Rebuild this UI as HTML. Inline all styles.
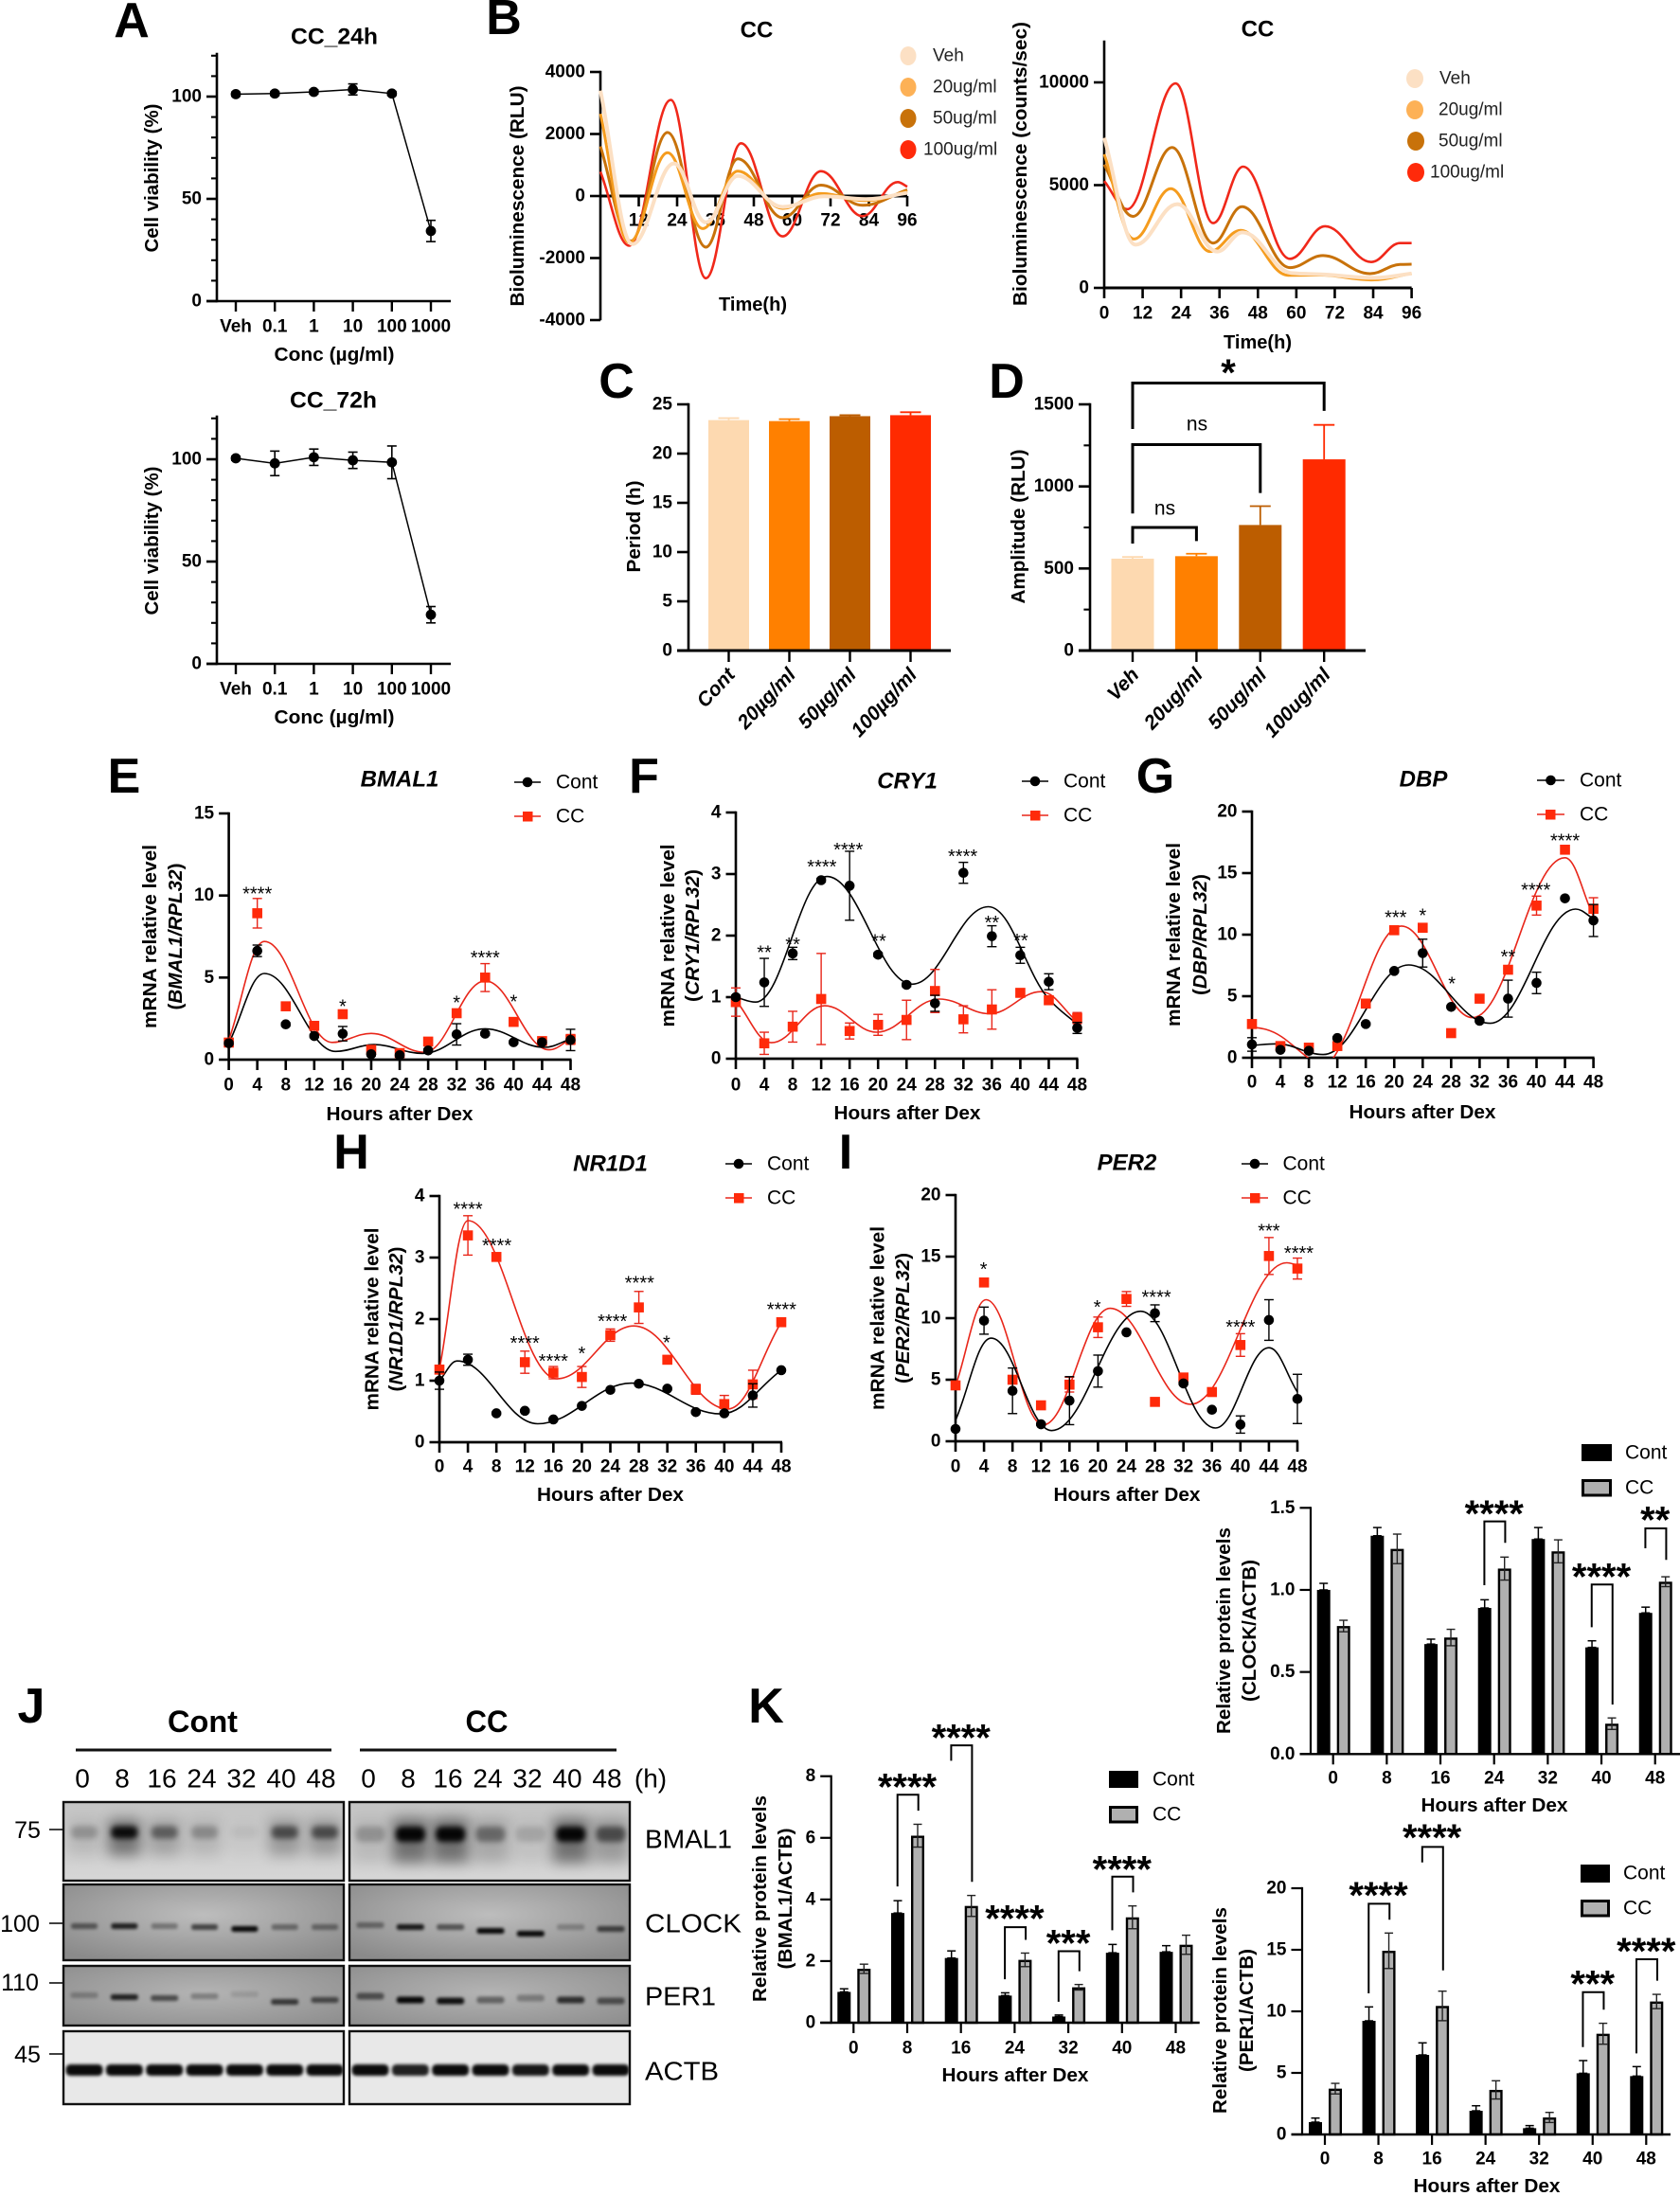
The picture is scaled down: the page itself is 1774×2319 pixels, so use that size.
<!DOCTYPE html>
<html lang="en">
<head>
<meta charset="utf-8">
<title>Circadian gene expression figure</title>
<style>
html,body{margin:0;padding:0;background:#fff;width:1774px;height:2319px;overflow:hidden}
svg{display:block}
text{font-family:"Liberation Sans",Arial,sans-serif;fill:#000;dominant-baseline:central}
.letter{font-size:52px;font-weight:700;text-anchor:middle}
.title{font-size:24px;font-weight:700;font-style:italic;text-anchor:middle}
.ptitle{font-size:24px;font-weight:700;text-anchor:middle}
.axis{font-size:20px;font-weight:700;text-anchor:middle}
.leg{font-size:21px}
.leg2{font-size:19px;fill:#222}
.blot{font-size:28px}
.blotm{font-size:28px;text-anchor:middle}
</style>
</head>
<body>
<svg id="fig" xmlns="http://www.w3.org/2000/svg" width="1774" height="2319" viewBox="0 0 1774 2319">
<defs>
<filter id="blur-wide" x="-60%" y="-100%" width="220%" height="300%"><feGaussianBlur stdDeviation="7"/></filter>
<filter id="blur-mid" x="-40%" y="-100%" width="180%" height="300%"><feGaussianBlur stdDeviation="3"/></filter>
<filter id="blur-sharp" x="-30%" y="-100%" width="160%" height="300%"><feGaussianBlur stdDeviation="1.6"/></filter>
<radialGradient id="grad-clock" cx="50%" cy="40%" r="70%"><stop offset="0%" stop-color="#bdbdbd"/><stop offset="100%" stop-color="#8a8a8a"/></radialGradient>
<radialGradient id="grad-per" cx="50%" cy="45%" r="70%"><stop offset="0%" stop-color="#b4b4b4"/><stop offset="100%" stop-color="#8e8e8e"/></radialGradient>
<linearGradient id="grad-bmal" x1="0" y1="0" x2="0" y2="1"><stop offset="0%" stop-color="#c4c4c4"/><stop offset="100%" stop-color="#d6d6d6"/></linearGradient>
</defs>
<rect width="1774" height="2319" fill="#fff"/>

<!-- panel letters -->
<text class="letter" x="139" y="22">A</text>
<text class="letter" x="532" y="19">B</text>
<text class="letter" x="651" y="403">C</text>
<text class="letter" x="1063" y="403">D</text>
<text class="letter" x="131" y="820">E</text>
<text class="letter" x="680" y="820">F</text>
<text class="letter" x="1220" y="820">G</text>
<text class="letter" x="371" y="1217">H</text>
<text class="letter" x="893" y="1217">I</text>
<text class="letter" x="33" y="1802">J</text>
<text class="letter" x="809" y="1802">K</text>

<!-- A -->
<text class="ptitle" x="353" y="39" textLength="92" lengthAdjust="spacingAndGlyphs">CC_24h</text>
<text class="axis" x="161" y="188" textLength="157" lengthAdjust="spacingAndGlyphs" transform="rotate(-90 161 188)">Cell viability (%)</text>
<text class="axis" x="353" y="375" textLength="127" lengthAdjust="spacingAndGlyphs">Conc (µg/ml)</text>
<text class="ptitle" x="352" y="423" textLength="92" lengthAdjust="spacingAndGlyphs">CC_72h</text>
<text class="axis" x="161" y="571" textLength="157" lengthAdjust="spacingAndGlyphs" transform="rotate(-90 161 571)">Cell viability (%)</text>
<text class="axis" x="353" y="758" textLength="127" lengthAdjust="spacingAndGlyphs">Conc (µg/ml)</text>

<!-- B -->
<text class="ptitle" x="799" y="32">CC</text>
<text class="axis" x="547" y="207" textLength="233" lengthAdjust="spacingAndGlyphs" transform="rotate(-90 547 207)">Bioluminescence (RLU)</text>
<text class="axis" x="795" y="322" textLength="72" lengthAdjust="spacingAndGlyphs">Time(h)</text>
<g>
<ellipse cx="959" cy="59" rx="8.5" ry="10" fill="#FCE0C4"/>
<ellipse cx="959" cy="92" rx="8.5" ry="10" fill="#FDB156"/>
<ellipse cx="959" cy="125" rx="8.5" ry="10" fill="#C8720A"/>
<ellipse cx="959" cy="158" rx="8.5" ry="10" fill="#FF2A0A"/>
<text class="leg2" x="985" y="59">Veh</text>
<text class="leg2" x="985" y="92">20ug/ml</text>
<text class="leg2" x="985" y="125">50ug/ml</text>
<text class="leg2" x="975" y="158">100ug/ml</text>
</g>
<text class="ptitle" x="1328" y="31">CC</text>
<text class="axis" x="1078" y="173" textLength="300" lengthAdjust="spacingAndGlyphs" transform="rotate(-90 1078 173)">Bioluminescence (counts/sec)</text>
<text class="axis" x="1328" y="362" textLength="72" lengthAdjust="spacingAndGlyphs">Time(h)</text>
<g>
<ellipse cx="1494" cy="83" rx="9" ry="10" fill="#FCE0C4"/>
<ellipse cx="1494" cy="116" rx="9" ry="10" fill="#FDB156"/>
<ellipse cx="1495" cy="149" rx="9" ry="10" fill="#C8720A"/>
<ellipse cx="1495" cy="182" rx="9" ry="10" fill="#FF2A0A"/>
<text class="leg2" x="1520" y="83">Veh</text>
<text class="leg2" x="1519" y="116">20ug/ml</text>
<text class="leg2" x="1519" y="149">50ug/ml</text>
<text class="leg2" x="1510" y="182">100ug/ml</text>
</g>

<!-- C / D titles -->
<text class="axis" x="670" y="556" textLength="97" lengthAdjust="spacingAndGlyphs" transform="rotate(-90 670 556)">Period (h)</text>
<text class="axis" x="1076" y="556" textLength="163" lengthAdjust="spacingAndGlyphs" transform="rotate(-90 1076 556)">Amplitude (RLU)</text>
<text x="1230" y="537" text-anchor="middle" font-size="21">ns</text>
<text x="1264" y="448" text-anchor="middle" font-size="21">ns</text>
<text x="1297" y="394" text-anchor="middle" font-size="40" font-weight="700">*</text>

<!-- E -->
<text class="title" x="422" y="823">BMAL1</text>
<text class="axis" x="159" y="989" textLength="194" lengthAdjust="spacingAndGlyphs" transform="rotate(-90 159 989)">mRNA relative level</text>
<text class="axis" x="186" y="989" textLength="155" lengthAdjust="spacingAndGlyphs" transform="rotate(-90 186 989)">(<tspan font-style="italic">BMAL1/RPL32</tspan>)</text>
<text class="axis" x="422" y="1177" textLength="155" lengthAdjust="spacingAndGlyphs">Hours after Dex</text>
<g>
<line x1="543" x2="571" y1="826" y2="826" stroke="#000" stroke-width="1.5"/>
<circle cx="557" cy="826" r="5.3" fill="#000"/>
<text class="leg" x="587" y="826">Cont</text>
<line x1="543" x2="571" y1="862" y2="862" stroke="#E8261A" stroke-width="1.5"/>
<rect x="552" y="857" width="10.5" height="10.5" fill="#FF2A0A"/>
<text class="leg" x="587" y="862">CC</text>
</g>

<!-- F -->
<text class="title" x="958" y="825">CRY1</text>
<text class="axis" x="706" y="988" textLength="193" lengthAdjust="spacingAndGlyphs" transform="rotate(-90 706 988)">mRNA relative level</text>
<text class="axis" x="732" y="988" textLength="140" lengthAdjust="spacingAndGlyphs" transform="rotate(-90 732 988)">(<tspan font-style="italic">CRY1/RPL32</tspan>)</text>
<text class="axis" x="958" y="1176" textLength="155" lengthAdjust="spacingAndGlyphs">Hours after Dex</text>
<g>
<line x1="1079" x2="1107" y1="825" y2="825" stroke="#000" stroke-width="1.5"/>
<circle cx="1093" cy="825" r="5.3" fill="#000"/>
<text class="leg" x="1123" y="825">Cont</text>
<line x1="1079" x2="1107" y1="861" y2="861" stroke="#E8261A" stroke-width="1.5"/>
<rect x="1088" y="856" width="10.5" height="10.5" fill="#FF2A0A"/>
<text class="leg" x="1123" y="861">CC</text>
</g>

<!-- G -->
<text class="title" x="1503" y="823">DBP</text>
<text class="axis" x="1240" y="987" textLength="194" lengthAdjust="spacingAndGlyphs" transform="rotate(-90 1240 987)">mRNA relative level</text>
<text class="axis" x="1268" y="987" textLength="128" lengthAdjust="spacingAndGlyphs" transform="rotate(-90 1268 987)">(<tspan font-style="italic">DBP/RPL32</tspan>)</text>
<text class="axis" x="1502" y="1175" textLength="155" lengthAdjust="spacingAndGlyphs">Hours after Dex</text>
<g>
<line x1="1623" x2="1652" y1="824" y2="824" stroke="#000" stroke-width="1.5"/>
<circle cx="1637.5" cy="824" r="5.3" fill="#000"/>
<text class="leg" x="1668" y="824">Cont</text>
<line x1="1623" x2="1652" y1="860" y2="860" stroke="#E8261A" stroke-width="1.5"/>
<rect x="1632" y="855" width="10.5" height="10.5" fill="#FF2A0A"/>
<text class="leg" x="1668" y="860">CC</text>
</g>

<!-- H -->
<text class="title" x="644.5" y="1229">NR1D1</text>
<text class="axis" x="393.5" y="1393" textLength="193" lengthAdjust="spacingAndGlyphs" transform="rotate(-90 393.5 1393)">mRNA relative level</text>
<text class="axis" x="419" y="1393" textLength="153" lengthAdjust="spacingAndGlyphs" transform="rotate(-90 419 1393)">(<tspan font-style="italic">NR1D1/RPL32</tspan>)</text>
<text class="axis" x="644.5" y="1579" textLength="155" lengthAdjust="spacingAndGlyphs">Hours after Dex</text>
<g>
<line x1="766" x2="794" y1="1229" y2="1229" stroke="#000" stroke-width="1.5"/>
<circle cx="780" cy="1229" r="5.3" fill="#000"/>
<text class="leg" x="810" y="1229">Cont</text>
<line x1="766" x2="794" y1="1265" y2="1265" stroke="#E8261A" stroke-width="1.5"/>
<rect x="775" y="1260" width="10.5" height="10.5" fill="#FF2A0A"/>
<text class="leg" x="810" y="1265">CC</text>
</g>

<!-- I -->
<text class="title" x="1190" y="1228">PER2</text>
<text class="axis" x="927.5" y="1392" textLength="194" lengthAdjust="spacingAndGlyphs" transform="rotate(-90 927.5 1392)">mRNA relative level</text>
<text class="axis" x="954" y="1392" textLength="138" lengthAdjust="spacingAndGlyphs" transform="rotate(-90 954 1392)">(<tspan font-style="italic">PER2/RPL32</tspan>)</text>
<text class="axis" x="1190" y="1579" textLength="155" lengthAdjust="spacingAndGlyphs">Hours after Dex</text>
<g>
<line x1="1311" x2="1339" y1="1229" y2="1229" stroke="#000" stroke-width="1.5"/>
<circle cx="1325" cy="1229" r="5.3" fill="#000"/>
<text class="leg" x="1354.5" y="1229">Cont</text>
<line x1="1311" x2="1339" y1="1265" y2="1265" stroke="#E8261A" stroke-width="1.5"/>
<rect x="1320" y="1260" width="10.5" height="10.5" fill="#FF2A0A"/>
<text class="leg" x="1354.5" y="1265">CC</text>
</g>

<!-- J text -->
<text x="214" y="1818" text-anchor="middle" font-size="32" font-weight="700" textLength="74" lengthAdjust="spacingAndGlyphs">Cont</text>
<text x="514" y="1818" text-anchor="middle" font-size="32" font-weight="700" textLength="45" lengthAdjust="spacingAndGlyphs">CC</text>
<line x1="80" x2="350" y1="1848" y2="1848" stroke="#111" stroke-width="3"/>
<line x1="380" x2="651" y1="1848" y2="1848" stroke="#111" stroke-width="3"/>
<text class="blotm" x="687" y="1878">(h)</text>
<text class="blot" x="681" y="1942" textLength="92" lengthAdjust="spacingAndGlyphs">BMAL1</text>
<text class="blot" x="681" y="2031" textLength="102" lengthAdjust="spacingAndGlyphs">CLOCK</text>
<text class="blot" x="681" y="2108" textLength="75" lengthAdjust="spacingAndGlyphs">PER1</text>
<text class="blot" x="681" y="2187" textLength="78" lengthAdjust="spacingAndGlyphs">ACTB</text>
<text x="29" y="1933" text-anchor="middle" font-size="25">75</text>
<text x="21" y="2032" text-anchor="middle" font-size="25">100</text>
<text x="21" y="2094" text-anchor="middle" font-size="25">110</text>
<text x="29" y="2170" text-anchor="middle" font-size="25">45</text>
<line x1="52" x2="67" y1="1932" y2="1932" stroke="#111" stroke-width="1.6"/>
<line x1="52" x2="67" y1="2031" y2="2031" stroke="#111" stroke-width="1.6"/>
<line x1="52" x2="67" y1="2094" y2="2094" stroke="#111" stroke-width="1.6"/>
<line x1="52" x2="67" y1="2169" y2="2169" stroke="#111" stroke-width="1.6"/>

<!-- K titles -->
<text class="axis" x="803" y="2005" textLength="218" lengthAdjust="spacingAndGlyphs" transform="rotate(-90 803 2005)">Relative protein levels</text>
<text class="axis" x="830" y="2005" textLength="149" lengthAdjust="spacingAndGlyphs" transform="rotate(-90 830 2005)">(BMAL1/ACTB)</text>
<text class="axis" x="1072" y="2192" textLength="155" lengthAdjust="spacingAndGlyphs">Hours after Dex</text>
<g>
<rect x="1171" y="1870" width="31" height="18" fill="#000"/>
<rect x="1172.5" y="1908.5" width="28" height="15.5" fill="#B0B0B0" stroke="#000" stroke-width="3"/>
<text class="leg" x="1217" y="1879">Cont</text>
<text class="leg" x="1217" y="1916">CC</text>
</g>

<text class="axis" x="1293" y="1722" textLength="218" lengthAdjust="spacingAndGlyphs" transform="rotate(-90 1293 1722)">Relative protein levels</text>
<text class="axis" x="1320" y="1722" textLength="150" lengthAdjust="spacingAndGlyphs" transform="rotate(-90 1320 1722)">(CLOCK/ACTB)</text>
<text class="axis" x="1578" y="1907" textLength="155" lengthAdjust="spacingAndGlyphs">Hours after Dex</text>
<g>
<rect x="1670" y="1525" width="32" height="18" fill="#000"/>
<rect x="1671.5" y="1563.5" width="29" height="15.5" fill="#B0B0B0" stroke="#000" stroke-width="3"/>
<text class="leg" x="1716" y="1534">Cont</text>
<text class="leg" x="1716" y="1571">CC</text>
</g>

<text class="axis" x="1289" y="2123" textLength="218" lengthAdjust="spacingAndGlyphs" transform="rotate(-90 1289 2123)">Relative protein levels</text>
<text class="axis" x="1317" y="2123" textLength="130" lengthAdjust="spacingAndGlyphs" transform="rotate(-90 1317 2123)">(PER1/ACTB)</text>
<text class="axis" x="1570" y="2309" textLength="155" lengthAdjust="spacingAndGlyphs">Hours after Dex</text>
<g>
<rect x="1669" y="1969" width="31" height="19" fill="#000"/>
<rect x="1670.5" y="2007.5" width="28" height="15.5" fill="#B0B0B0" stroke="#000" stroke-width="3"/>
<text class="leg" x="1714" y="1978">Cont</text>
<text class="leg" x="1714" y="2015">CC</text>
</g>
</svg>

<script>
// ---------- Panel A ----------
const concLabels = ['Veh','0.1','1','10','100','1000'];
const viability24 = [101.2,101.5,102.3,103.5,101.5,34.3];
const viability24Err = [1,1,1,2.7,1,5.2];
const viability72 = [100.5,98,101,99.5,98.5,24];
const viability72Err = [1,6,4,4,8,4];
const viabilityTicks = [0,50,100];
const viabilityMinor = [10,20,30,40,60,70,80,90,110,120];

// ---------- Panel B ----------
const lumColors = ['#F0281A','#C8720A','#F59C1E','#FCE0C4'];
const lumWidths = [2.6,3,3,4];
const lumNames = ['100ug','50ug','20ug','veh'];
const timeTicks = [12,24,36,48,60,72,84,96];
const timeTicksFull = [0,12,24,36,48,60,72,84,96];
const rluTicks = [-4000,-2000,0,2000,4000];
const countTicks = [0,5000,10000];

const rlu100T = [0,9,22,33,44,57,69,82,93,96];
const rlu100V = [785,-1600,3100,-2650,1700,-1300,800,-650,450,300];
const rlu50T = [0,9.5,21,33,43,57,69,82,96];
const rlu50V = [1600,-1450,2050,-1650,1200,-700,350,-300,200];
const rlu20T = [0,9,21,32,43,57,69,83,96];
const rlu20V = [2650,-1500,1400,-1050,800,-400,80,-150,150];
const rluVehT = [0,10,23,33,43,57,70,83,96];
const rluVehV = [3400,-1550,1050,-850,650,-350,-10,-100,100];

const cnt100T = [0,7.2,22.3,34,43.4,58,69,83.4,92.4,96];
const cnt100V = [5200,3830,9950,3150,5900,1415,3000,1260,2180,2180];
const cnt50T = [0,9,21.2,34,43,58,68.3,83,92.4,96];
const cnt50V = [6000,3480,6830,2180,3950,985,1570,690,1140,1150];
const cnt20T = [0,9.3,20.8,33,42.6,57.4,67.5,83.4,96];
const cnt20V = [6500,2380,4830,1770,2800,615,620,385,700];
const cntVehT = [0,9.8,22.8,35.3,43.2,58.5,68.7,84.5,96];
const cntVehV = [7300,2100,4075,1770,2700,720,650,490,700];

// ---------- Panels C / D ----------
const periodLabels = ['Cont','20µg/ml','50µg/ml','100µg/ml'];
const amplitudeLabels = ['Veh','20ug/ml','50ug/ml','100ug/ml'];
const doseColors = ['#FDD9B0','#FF8000','#BC5D00','#FF2A00'];
const periodValues = [23.4,23.3,23.8,23.9];
const periodErr = [0.2,0.2,0.1,0.3];
const periodTicks = [0,5,10,15,20,25];
const amplitudeValues = [560,575,765,1165];
const amplitudeErr = [10,15,115,210];
const amplitudeTicks = [0,500,1000,1500];
const amplitudeMinor = [250,750,1250];

// ---------- Panels E-I : mRNA ----------
const hours = [0,4,8,12,16,20,24,28,32,36,40,44,48];

const bmal1Cont = [1,6.63,2.15,1.44,1.58,0.33,0.27,0.56,1.54,1.58,1.06,1.06,1.2];
const bmal1ContErr = [0.1,0.35,0.1,0.1,0.44,0.1,0.1,0.1,0.65,0.1,0.1,0.1,0.65];
const bmal1CC = [1.04,8.92,3.25,2.06,2.77,0.6,0.4,1.1,2.83,5,2.3,1.13,1.23];
const bmal1CCErr = [0.1,0.9,0.1,0.1,0.1,0.1,0.1,0.1,0.1,0.85,0.1,0.1,0.3];
const bmal1ContFitT = [0,5,15,20.4,27.2,36,44.3,48];
const bmal1ContFitV = [1,5.25,0.5,0.92,0.38,1.88,0.75,1.25];
const bmal1CCFitT = [0,5,14.5,20,27.5,36,45,48];
const bmal1CCFitV = [1.2,7.2,1.05,1.6,0.45,4.8,0.6,1.25];
const bmal1StarT = [4,16,32,36,40];
const bmal1StarV = [10.33,3.46,3.69,6.44,3.75];
const bmal1StarText = ['****','*','*','****','*'];
const bmal1Ticks = [0,5,10,15];

const cry1Cont = [1,1.24,1.71,2.9,2.81,1.69,1.2,0.9,3.02,1.99,1.68,1.25,0.5];
const cry1ContErr = [0.03,0.39,0.1,0.03,0.56,0.03,0.03,0.13,0.17,0.17,0.13,0.13,0.09];
const cry1CC = [0.92,0.25,0.52,0.97,0.45,0.55,0.63,1.1,0.64,0.8,1.07,0.95,0.66];
const cry1CCErr = [0.23,0.18,0.25,0.74,0.13,0.17,0.32,0.35,0.22,0.32,0.05,0.05,0.09];
const cry1ContFitT = [0,2.8,12.8,24.8,35.5,44,48];
const cry1ContFitV = [1,0.92,2.96,1.21,2.47,0.97,0.56];
const cry1CCFitT = [0,5,12.5,19.8,28.6,35.7,42.9,48];
const cry1CCFitV = [0.95,0.26,0.86,0.43,0.97,0.73,1.09,0.6];
const cry1StarT = [4,8,12.1,15.8,20.1,31.9,36,40.06];
const cry1StarV = [1.79,1.92,3.18,3.46,1.97,3.35,2.27,1.98];
const cry1StarText = ['**','**','****','****','**','****','**','**'];
const cry1Ticks = [0,1,2,3,4];

const dbpCont = [1.08,0.64,0.56,1.6,2.74,7.05,8.5,4.13,3,4.8,6.08,12.95,11.15];
const dbpContErr = [0.55,0.1,0.1,0.1,0.1,0.1,1.13,0.1,0.1,1.5,0.87,0.1,1.3];
const dbpCC = [2.74,0.95,0.82,0.95,4.4,10.36,10.56,2,4.8,7.15,12.36,16.9,12.1];
const dbpCCErr = [0.1,0.1,0.1,0.1,0.1,0.1,0.1,0.1,0.1,0.1,0.77,0.1,0.9];
const dbpContFitT = [0,3.5,10,22,33.5,45.5,48];
const dbpContFitV = [1,1.13,0.26,7.54,2.8,12.08,11.3];
const dbpCCFitT = [0,2,8,10,11.4,21,31,44,48];
const dbpCCFitV = [2.5,2.3,-0.05,-1,-0.05,10.7,3.26,16.25,11.5];
const dbpStarT = [20.2,24,28.1,36,39.9,44];
const dbpStarV = [11.72,11.85,6.33,8.51,13.95,17.95];
const dbpStarText = ['***','*','*','**','****','****'];
const dbpTicks = [0,5,10,15,20];

const nr1d1Cont = [1,1.34,0.47,0.51,0.37,0.59,0.85,0.95,0.87,0.49,0.47,0.76,1.17];
const nr1d1ContErr = [0.14,0.09,0.02,0.02,0.02,0.02,0.02,0.02,0.02,0.02,0.02,0.19,0.02];
const nr1d1CC = [1.18,3.36,3.01,1.3,1.13,1.06,1.74,2.19,1.34,0.86,0.62,0.94,1.95];
const nr1d1CCErr = [0.07,0.32,0.02,0.18,0.1,0.17,0.1,0.26,0.02,0.08,0.14,0.23,0.02];
const nr1d1ContFitT = [0,2.5,13.8,27,39.5,48];
const nr1d1ContFitV = [1,1.32,0.3,0.96,0.46,1.17];
const nr1d1CCFitT = [0,4,16.5,27.3,40.5,48];
const nr1d1CCFitV = [1.18,3.6,1.03,1.89,0.54,1.95];
const nr1d1StarT = [4,8.05,12,16,20,24.3,28.1,31.9,48.05];
const nr1d1StarV = [3.85,3.26,1.67,1.38,1.5,2.03,2.65,1.68,2.22];
const nr1d1StarText = ['****','****','****','****','*','****','****','*','****'];
const nr1d1Ticks = [0,1,2,3,4];

const per2Cont = [1,9.8,4.1,1.38,3.3,5.7,8.85,10.4,4.7,2.56,1.36,9.85,3.44];
const per2ContErr = [0.1,1.1,1.85,0.1,1.95,1.3,0.1,0.68,0.1,0.1,0.7,1.65,2];
const per2CC = [4.54,12.9,5,2.92,4.6,9.26,11.56,3.2,5.18,4,7.82,15.05,14.03];
const per2CCErr = [0.1,0.1,0.1,0.1,0.6,0.83,0.6,0.1,0.1,0.1,0.92,1.5,0.85];
const per2ContFitT = [0,5,13.5,26,36.5,44,48];
const per2ContFitV = [1.7,8.38,0.87,10.56,1.08,7.6,4];
const per2CCFitT = [0,4.3,12.3,21.7,33,46.5,48];
const per2CCFitV = [4.5,11.5,1.33,10.8,3,14.5,14.3];
const per2StarT = [3.94,19.9,28.2,40,44,48.2];
const per2StarV = [14.28,11.2,12.03,9.59,17.41,15.6];
const per2StarText = ['*','*','****','****','***','****'];
const per2Ticks = [0,5,10,15,20];

// ---------- Panel K : protein bars ----------
const doseHours = ['0','8','16','24','32','40','48'];

const bmal1ProteinCont = [1,3.56,2.1,0.88,0.2,2.27,2.3];
const bmal1ProteinContErr = [0.1,0.4,0.23,0.09,0.05,0.27,0.2];
const bmal1ProteinCC = [1.75,6.07,3.79,2.04,1.15,3.42,2.53];
const bmal1ProteinCCErr = [0.15,0.37,0.34,0.22,0.09,0.37,0.31];
const bmal1ProteinTicks = [0,2,4,6,8];
const bmal1ProteinTickLabels = ['0','2','4','6','8'];
const bmal1BracketGroup = [1,2,3,4,5];
const bmal1BracketTop = [7.4,9,3.1,2.32,4.74];
const bmal1BracketLeft = [4.42,8.5,1.41,0.68,3];
const bmal1BracketRight = [6.88,4.57,2.69,1.67,4.23];
const bmal1BracketStarV = [7.92,9.53,3.65,2.85,5.26];
const bmal1BracketStars = ['****','****','****','***','****'];

const clockProteinCont = [1,1.33,0.67,0.89,1.31,0.65,0.86];
const clockProteinContErr = [0.04,0.05,0.03,0.05,0.07,0.04,0.035];
const clockProteinCC = [0.78,1.25,0.71,1.13,1.235,0.185,1.05];
const clockProteinCCErr = [0.035,0.09,0.05,0.07,0.07,0.035,0.03];
const clockProteinTicks = [0,0.5,1,1.5];
const clockProteinTickLabels = ['0.0','0.5','1.0','1.5'];
const clockBracketGroup = [3,5,6];
const clockBracketTop = [1.417,1.033,1.375];
const clockBracketLeft = [1.029,0.773,1.254];
const clockBracketRight = [1.287,0.302,1.183];
const clockBracketStarV = [1.517,1.133,1.479];
const clockBracketStars = ['****','****','**'];

const per1ProteinCont = [1,9.23,6.46,1.92,0.51,4.97,4.74];
const per1ProteinContErr = [0.33,1.13,0.98,0.41,0.21,1.03,0.77];
const per1ProteinCC = [3.72,14.92,10.44,3.62,1.38,8.18,10.8];
const per1ProteinCCErr = [0.43,1.44,1.2,0.74,0.41,0.85,0.58];
const per1ProteinTicks = [0,5,10,15,20];
const per1ProteinTickLabels = ['0','5','10','15','20'];
const per1BracketGroup = [1,2,5,6];
const per1BracketTop = [18.74,23.36,11.56,14.23];
const per1BracketLeft = [11.46,22.1,7.1,6.59];
const per1BracketRight = [17.44,13.33,10.13,12.49];
const per1BracketStarV = [20.1,24.8,12.92,15.56];
const per1BracketStars = ['****','****','***','****'];

// ---------- Panel J : blot band intensities (0..1) ----------
const blotLaneLabels = ['0','8','16','24','32','40','48'];
const bmal1BandsCont = [0.22,0.95,0.45,0.25,0.05,0.55,0.55];
const bmal1BandsCC = [0.22,1,1,0.4,0.14,1,0.55];
const clockBandsCont = [0.5,0.85,0.35,0.65,1,0.4,0.4];
const clockBandsCC = [0.4,0.9,0.55,1,1,0.25,0.65];
const per1BandsCont = [0.25,0.85,0.6,0.3,0.12,0.7,0.6];
const per1BandsCC = [0.55,1,0.95,0.45,0.3,0.75,0.55];
const actbBandsCont = [1,1,1,1,1,1,1];
const actbBandsCC = [1,0.9,1,1,0.95,1,1];

// ---------- helpers ----------
const SVGNS = 'http://www.w3.org/2000/svg';
const fig = document.getElementById('fig');
const BLACK = '#000', RED = '#E8261A', REDFILL = '#FF2A0A';
function mk(tag, attrs, parent) {
  const el = document.createElementNS(SVGNS, tag);
  for (const k in attrs) el.setAttribute(k, attrs[k]);
  parent.appendChild(el);
  return el;
}
function linear(d0, d1, r0, r1) { return v => r0 + (v - d0) * (r1 - r0) / (d1 - d0); }
function panel(name) {
  const g = mk('g', {}, fig);
  
  
  return g;
}
// Monotone cubic path through (xs, ys) in pixel space
function splinePath(xs, ys) {
  const n = xs.length, d = [], m = [];
  for (let i = 0; i < n - 1; i++) d.push((ys[i + 1] - ys[i]) / (xs[i + 1] - xs[i]));
  m[0] = d[0]; m[n - 1] = d[n - 2];
  for (let i = 1; i < n - 1; i++) {
    m[i] = d[i - 1] * d[i] <= 0 ? 0 : 2 * d[i - 1] * d[i] / (d[i - 1] + d[i]);
  }
  let p = 'M' + xs[0].toFixed(1) + ' ' + ys[0].toFixed(1);
  for (let i = 0; i < n - 1; i++) {
    const h = (xs[i + 1] - xs[i]) / 2.6;
    p += 'C' + (xs[i] + h).toFixed(1) + ' ' + (ys[i] + m[i] * h).toFixed(1) + ' ' +
         (xs[i + 1] - h).toFixed(1) + ' ' + (ys[i + 1] - m[i + 1] * h).toFixed(1) + ' ' +
         xs[i + 1].toFixed(1) + ' ' + ys[i + 1].toFixed(1);
  }
  return p;
}
function yAxis(g, x, top, bottom, sy, ticks, labels, minor, opts) {
  const sw = opts.sw || 2.6, len = opts.len || 10.5, fs = opts.fs || 19;
  const axis = mk('line', {x1: x, x2: x, y1: top, y2: bottom, stroke: BLACK, 'stroke-width': sw, 'stroke-linecap': 'square'}, g);
  
  
  ticks.forEach((v, i) => {
    const t = mk('line', {x1: x - len, x2: x, y1: sy(v), y2: sy(v), stroke: BLACK, 'stroke-width': sw}, g);
    
    
    const l = mk('text', {x: x - len - 5, y: sy(v), 'text-anchor': 'end', 'font-size': fs, 'font-weight': 700}, g);
    l.textContent = labels[i];
    
    
  });
  (minor || []).forEach(v => {
    const t = mk('line', {x1: x - len * 0.55, x2: x, y1: sy(v), y2: sy(v), stroke: BLACK, 'stroke-width': sw * 0.8}, g);
    
    
  });
}
function xAxisLine(g, x1, x2, y, sw) {
  const axis = mk('line', {x1: x1, x2: x2, y1: y, y2: y, stroke: BLACK, 'stroke-width': sw || 2.6}, g);
  
  
}
function xTick(g, x, y, len, label, labelY, fs, sw) {
  const t = mk('line', {x1: x, x2: x, y1: y, y2: y + len, stroke: BLACK, 'stroke-width': sw || 2.6}, g);
  
  
  if (label !== null) {
    const l = mk('text', {x: x, y: labelY, 'text-anchor': 'middle', 'font-size': fs, 'font-weight': 700}, g);
    l.textContent = label;
    
    
  }
}
function errorBar(g, x, yA, yB, hw, color, sw, name) {
  const v = mk('line', {x1: x, x2: x, y1: yA, y2: yB, stroke: color, 'stroke-width': sw}, g);
  
  
  [yA, yB].forEach(y => {
    const c = mk('line', {x1: x - hw, x2: x + hw, y1: y, y2: y, stroke: color, 'stroke-width': sw}, g);
    
    
  });
}
function starText(g, x, yc, text, fs) {
  const attrs = {x: x, y: yc + 0.235 * fs, 'text-anchor': 'middle', 'font-size': fs};
  if (fs > 30) attrs['font-weight'] = 700;
  const s = mk('text', attrs, g);
  s.textContent = text;
  
  
}

// ---------- viability panels (A) ----------
function drawViability(name, y0, y100, yTop, vals, errs) {
  const g = panel(name);
  const x0 = 249, step = 41.2;
  const sx = i => x0 + i * step;
  const sy = linear(0, 100, y0, y100);
  yAxis(g, 229, yTop, y0, sy, viabilityTicks, viabilityTicks.map(String), viabilityMinor, {fs: 19, len: 11});
  xAxisLine(g, 218, 476, y0);
  concLabels.forEach((c, i) => {
    const t = mk('line', {x1: sx(i), x2: sx(i), y1: y0, y2: y0 + 11, stroke: BLACK, 'stroke-width': 2.4}, g);
    
    
    const l = mk('text', {x: sx(i), y: y0 + 27, 'text-anchor': 'middle', 'font-size': 19, 'font-weight': 700}, g);
    l.textContent = c;
    
    
  });
  const line = mk('polyline', {points: vals.map((v, i) => sx(i) + ',' + sy(v)).join(' '), fill: 'none', stroke: BLACK, 'stroke-width': 1.5}, g);
  
  
  vals.forEach((v, i) => {
    errorBar(g, sx(i), sy(v - errs[i]), sy(v + errs[i]), 5, BLACK, 1.6, 'viability-error-bar');
    const d = mk('circle', {cx: sx(i), cy: sy(v), r: 5.4, fill: BLACK}, g);
    
    
  });
}
drawViability('chart-viability-24h', 318, 102, 57, viability24, viability24Err);
drawViability('chart-viability-72h', 701, 485, 440, viability72, viability72Err);

// ---------- bioluminescence panels (B) ----------
function drawLum(name, geo, ticks, xTickList, labelY, series) {
  const g = panel(name);
  const sx = linear(0, 96, geo.x0, geo.x1);
  const sy = linear(geo.d0, geo.d1, geo.r0, geo.r1);
  yAxis(g, geo.x0, geo.top, geo.bottom, sy, ticks, ticks.map(String), [], {fs: 19, len: 11});
  xAxisLine(g, geo.x0, geo.x1, sy(0), 3);
  xTickList.forEach(t => xTick(g, sx(t), sy(0), 11, String(t), labelY, 19));
  series.forEach((s, i) => {
    const p = mk('path', {d: splinePath(s[0].map(sx), s[1].map(sy)), fill: 'none', stroke: lumColors[i], 'stroke-width': lumWidths[i]}, g);
    
    
  });
}
drawLum('chart-bioluminescence-detrended', {x0: 634, x1: 958, d0: 0, d1: 4000, r0: 207, r1: 76, top: 76, bottom: 337},
  rluTicks, timeTicks, 233,
  [[rlu100T, rlu100V], [rlu50T, rlu50V], [rlu20T, rlu20V], [rluVehT, rluVehV]]);
drawLum('chart-bioluminescence-raw', {x0: 1166, x1: 1490.6, d0: 0, d1: 10000, r0: 304, r1: 87, top: 44, bottom: 304},
  countTicks, timeTicksFull, 331,
  [[cnt100T, cnt100V], [cnt50T, cnt50V], [cnt20T, cnt20V], [cntVehT, cntVehV]]);

// ---------- dose bars (C, D) ----------
function drawDoseBars(name, geo, labels, vals, errs, ticks, minor) {
  const g = panel(name);
  const sy = linear(0, geo.dMax, geo.y0, geo.yTop);
  const sx = i => geo.first + i * geo.step;
  yAxis(g, geo.x0, geo.yTop, geo.y0, sy, ticks, ticks.map(String), minor, {fs: 19, len: 12});
  vals.forEach((v, i) => {
    const b = mk('rect', {x: sx(i) - geo.w / 2, y: sy(v), width: geo.w, height: geo.y0 - sy(v), fill: doseColors[i]}, g);
    
    
    const e = mk('line', {x1: sx(i), x2: sx(i), y1: sy(v), y2: sy(v + errs[i]), stroke: doseColors[i], 'stroke-width': 1.8}, g);
    
    
    const c = mk('line', {x1: sx(i) - 11, x2: sx(i) + 11, y1: sy(v + errs[i]), y2: sy(v + errs[i]), stroke: doseColors[i], 'stroke-width': 1.8}, g);
    
    
    const t = mk('line', {x1: sx(i), x2: sx(i), y1: geo.y0, y2: geo.y0 + 12, stroke: BLACK, 'stroke-width': 2.4}, g);
    
    
    const lx = sx(i) + 3;
    const l = mk('text', {x: lx, y: 709, 'text-anchor': 'end', 'font-size': 21, 'font-weight': 700, 'font-style': 'italic', transform: 'rotate(-47 ' + lx + ' 709)'}, g);
    l.textContent = labels[i];
    
    
  });
  xAxisLine(g, geo.x0 - 12, geo.xEnd, geo.y0, 3);
}
drawDoseBars('chart-period', {x0: 727, xEnd: 1004, y0: 687, yTop: 427, dMax: 25, first: 769.5, step: 64, w: 43}, periodLabels, periodValues, periodErr, periodTicks, []);
drawDoseBars('chart-amplitude', {x0: 1151, xEnd: 1442, y0: 687, yTop: 427, dMax: 1500, first: 1196, step: 67.4, w: 45}, amplitudeLabels, amplitudeValues, amplitudeErr, amplitudeTicks, amplitudeMinor);
(function () {
  const g = panel('amplitude-significance-brackets');
  const sy = linear(0, 1500, 687, 427);
  const sx = i => 1196 + i * 67.4;
  const tops = [750, 1255, 1630];
  const lefts = [652, 835, 1350];
  const rights = [667, 960, 1460];
  [1, 2, 3].forEach((k, i) => {
    const p = mk('path', {d: 'M' + sx(0) + ' ' + sy(lefts[i]) + 'V' + sy(tops[i]) + 'H' + sx(k) + 'V' + sy(rights[i]), fill: 'none', stroke: BLACK, 'stroke-width': 3}, g);
    
    
  });
})();

// ---------- mRNA panels (E-I) ----------
function drawMrna(name, geo, s) {
  const g = panel(name);
  const sx = linear(0, 48, geo.x0, geo.x1);
  const sy = linear(0, s.ticks[s.ticks.length - 1], geo.y0, geo.yTop);
  yAxis(g, geo.x0, geo.yTop, geo.y0, sy, s.ticks, s.ticks.map(String), [], {fs: 19});
  xAxisLine(g, geo.x0 - 1, geo.x1 + 1, geo.y0, 2.8);
  hours.forEach(h => xTick(g, sx(h), geo.y0, 11, String(h), geo.labelY, 19));

  const clipId = 'clip-' + name;
  const cp = mk('clipPath', {id: clipId}, g);
  mk('rect', {x: geo.x0 - 3, y: geo.yTop - 20, width: geo.x1 - geo.x0 + 6, height: geo.y0 - geo.yTop + 20}, cp);

  const ccCurve = mk('path', {d: splinePath(s.ccFitT.map(sx), s.ccFitV.map(sy)), fill: 'none', stroke: RED, 'stroke-width': 1.6, 'clip-path': 'url(#' + clipId + ')'}, g);
  
  
  const contCurve = mk('path', {d: splinePath(s.contFitT.map(sx), s.contFitV.map(sy)), fill: 'none', stroke: BLACK, 'stroke-width': 1.6, 'clip-path': 'url(#' + clipId + ')'}, g);
  
  

  hours.forEach((h, i) => {
    errorBar(g, sx(h), sy(s.cc[i] - s.ccErr[i]), sy(s.cc[i] + s.ccErr[i]), 5, RED, 1.4, 'cc-error-bar');
    const sq = mk('rect', {x: sx(h) - 5.3, y: sy(s.cc[i]) - 5.3, width: 10.6, height: 10.6, fill: REDFILL}, g);
    
    
  });
  hours.forEach((h, i) => {
    errorBar(g, sx(h), sy(s.cont[i] - s.contErr[i]), sy(s.cont[i] + s.contErr[i]), 5, BLACK, 1.4, 'cont-error-bar');
    const dot = mk('circle', {cx: sx(h), cy: sy(s.cont[i]), r: 5.3, fill: BLACK}, g);
    
    
  });
  s.starT.forEach((t, i) => starText(g, sx(t), sy(s.starV[i]), s.starText[i], 20));
}
drawMrna('chart-bmal1', {x0: 241.6, x1: 602.5, y0: 1119, yTop: 859, labelY: 1146},
  {ticks: bmal1Ticks, cont: bmal1Cont, contErr: bmal1ContErr, cc: bmal1CC, ccErr: bmal1CCErr, contFitT: bmal1ContFitT, contFitV: bmal1ContFitV, ccFitT: bmal1CCFitT, ccFitV: bmal1CCFitV, starT: bmal1StarT, starV: bmal1StarV, starText: bmal1StarText});
drawMrna('chart-cry1', {x0: 777, x1: 1137.5, y0: 1118, yTop: 858, labelY: 1146},
  {ticks: cry1Ticks, cont: cry1Cont, contErr: cry1ContErr, cc: cry1CC, ccErr: cry1CCErr, contFitT: cry1ContFitT, contFitV: cry1ContFitV, ccFitT: cry1CCFitT, ccFitV: cry1CCFitV, starT: cry1StarT, starV: cry1StarV, starText: cry1StarText});
drawMrna('chart-dbp', {x0: 1322, x1: 1682.6, y0: 1117, yTop: 857, labelY: 1143},
  {ticks: dbpTicks, cont: dbpCont, contErr: dbpContErr, cc: dbpCC, ccErr: dbpCCErr, contFitT: dbpContFitT, contFitV: dbpContFitV, ccFitT: dbpCCFitT, ccFitV: dbpCCFitV, starT: dbpStarT, starV: dbpStarV, starText: dbpStarText});
drawMrna('chart-nr1d1', {x0: 464, x1: 825, y0: 1523, yTop: 1263, labelY: 1549},
  {ticks: nr1d1Ticks, cont: nr1d1Cont, contErr: nr1d1ContErr, cc: nr1d1CC, ccErr: nr1d1CCErr, contFitT: nr1d1ContFitT, contFitV: nr1d1ContFitV, ccFitT: nr1d1CCFitT, ccFitV: nr1d1CCFitV, starT: nr1d1StarT, starV: nr1d1StarV, starText: nr1d1StarText});
drawMrna('chart-per2', {x0: 1009, x1: 1370, y0: 1522, yTop: 1262, labelY: 1549},
  {ticks: per2Ticks, cont: per2Cont, contErr: per2ContErr, cc: per2CC, ccErr: per2CCErr, contFitT: per2ContFitT, contFitV: per2ContFitV, ccFitT: per2CCFitT, ccFitV: per2CCFitV, starT: per2StarT, starV: per2StarV, starText: per2StarText});

// ---------- protein bar panels (K) ----------
function drawProtein(name, geo, s) {
  const g = panel(name);
  const sy = linear(0, s.ticks[s.ticks.length - 1], geo.y0, geo.yTop);
  const sx = i => geo.first + i * geo.step;
  yAxis(g, geo.x0, geo.yTop, geo.y0, sy, s.ticks, s.tickLabels, [], {fs: 19, len: 11.5, sw: 2.2});
  doseHours.forEach((h, i) => {
    const cx = sx(i) - 10, ccx = sx(i) + 11;
    errorBar(g, cx, sy(s.cont[i] + s.contErr[i]), sy(s.cont[i]), 4.5, BLACK, 1.5, 'cont-bar-error');
    const b = mk('rect', {x: cx - 7, y: sy(s.cont[i]), width: 14, height: geo.y0 - sy(s.cont[i]), fill: BLACK}, g);
    
    
    const b2 = mk('rect', {x: ccx - 5.8, y: sy(s.cc[i]) + 1.2, width: 11.6, height: Math.max(0, geo.y0 - sy(s.cc[i]) - 1.2), fill: '#B0B0B0', stroke: BLACK, 'stroke-width': 2.4}, g);
    
    
    errorBar(g, ccx, sy(s.cc[i] + s.ccErr[i]), sy(s.cc[i] - s.ccErr[i]), 4.5, '#222', 1.4, 'cc-bar-error');
    xTick(g, sx(i), geo.y0, 11, h, geo.labelY, 19, 2.2);
  });
  xAxisLine(g, geo.x0 - 11.5, geo.xEnd, geo.y0, 2.4);
  s.brGroup.forEach((grp, i) => {
    const l = sx(grp) - 10.3, r = sx(grp) + 11.7;
    const p = mk('path', {d: 'M' + l + ' ' + sy(s.brLeft[i]) + 'V' + sy(s.brTop[i]) + 'H' + r + 'V' + sy(s.brRight[i]), fill: 'none', stroke: BLACK, 'stroke-width': 2}, g);
    
    
    starText(g, sx(grp), sy(s.brStarV[i]), s.brStars[i], 40);
  });
}
drawProtein('chart-bmal1-protein', {x0: 877.7, xEnd: 1266.7, y0: 2136, yTop: 1875.7, first: 901.3, step: 56.7, labelY: 2163},
  {ticks: bmal1ProteinTicks, tickLabels: bmal1ProteinTickLabels, cont: bmal1ProteinCont, contErr: bmal1ProteinContErr, cc: bmal1ProteinCC, ccErr: bmal1ProteinCCErr, brGroup: bmal1BracketGroup, brTop: bmal1BracketTop, brLeft: bmal1BracketLeft, brRight: bmal1BracketRight, brStarV: bmal1BracketStarV, brStars: bmal1BracketStars});
drawProtein('chart-clock-protein', {x0: 1384, xEnd: 1774, y0: 1852.3, yTop: 1592.3, first: 1407.7, step: 56.67, labelY: 1878},
  {ticks: clockProteinTicks, tickLabels: clockProteinTickLabels, cont: clockProteinCont, contErr: clockProteinContErr, cc: clockProteinCC, ccErr: clockProteinCCErr, brGroup: clockBracketGroup, brTop: clockBracketTop, brLeft: clockBracketLeft, brRight: clockBracketRight, brStarV: clockBracketStarV, brStars: clockBracketStars});
drawProtein('chart-per1-protein', {x0: 1375, xEnd: 1764, y0: 2254, yTop: 1994, first: 1399, step: 56.55, labelY: 2280},
  {ticks: per1ProteinTicks, tickLabels: per1ProteinTickLabels, cont: per1ProteinCont, contErr: per1ProteinContErr, cc: per1ProteinCC, ccErr: per1ProteinCCErr, brGroup: per1BracketGroup, brTop: per1BracketTop, brLeft: per1BracketLeft, brRight: per1BracketRight, brStarV: per1BracketStarV, brStars: per1BracketStars});

// ---------- western blot (J) ----------
(function () {
  const g = panel('western-blot');
  const laneLeft = 87, laneRight = 389, laneStep = 42;
  blotLaneLabels.forEach((h, i) => {
    [laneLeft, laneRight].forEach(x0 => {
      const l = mk('text', {x: x0 + i * laneStep, y: 1878, 'text-anchor': 'middle', 'font-size': 28}, g);
      l.textContent = h;
      
      
    });
  });
  function membrane(name, x, y, w, h, bg, bands, bandY, bandW, bandH, soft, drop) {
    const clipId = 'clip-blot-' + name;
    const cp = mk('clipPath', {id: clipId}, g);
    mk('rect', {x: x, y: y, width: w, height: h}, cp);
    const m = mk('g', {'clip-path': 'url(#' + clipId + ')'}, g);
    
    
    const r = mk('rect', {x: x, y: y, width: w, height: h, fill: bg}, m);
    
    
    bands.forEach((v, i) => {
      const cx = x + 22 + i * (w - 42) / 6;
      const cy = bandY + (drop ? drop[i] : 0);
      if (soft) {
        const halo = mk('rect', {x: cx - bandW * 0.62, y: cy - bandH * 1.1, width: bandW * 1.24, height: bandH * 3, fill: '#000', opacity: v * 0.45, filter: 'url(#blur-wide)'}, m);
        
        
      }
      const b = mk('rect', {x: cx - bandW / 2, y: cy - bandH / 2, width: bandW, height: bandH, rx: bandH / 2.5, fill: '#000', opacity: Math.min(1, v * 0.95), filter: soft ? 'url(#blur-mid)' : 'url(#blur-sharp)'}, m);
      
      
    });
    const f = mk('rect', {x: x, y: y, width: w, height: h, fill: 'none', stroke: '#111', 'stroke-width': 2.4}, g);
    
    
  }
  membrane('bmal1-cont', 67, 1903, 296, 83, 'url(#grad-bmal)', bmal1BandsCont, 1935, 28, 13, true);
  membrane('bmal1-cc', 369, 1903, 296, 83, 'url(#grad-bmal)', bmal1BandsCC, 1937, 31, 16, true);
  membrane('clock-cont', 67, 1990, 296, 80, 'url(#grad-clock)', clockBandsCont, 2034, 28, 6, false, [0, 0, 0, 1, 3, 1, 1]);
  membrane('clock-cc', 369, 1990, 296, 80, 'url(#grad-clock)', clockBandsCC, 2034, 29, 6, false, [-1, 1, 1, 5, 8, 1, 3]);
  membrane('per1-cont', 67, 2076, 296, 63, 'url(#grad-per)', per1BandsCont, 2109, 29, 6, false, [-2, 0, 1, -1, -3, 5, 3]);
  membrane('per1-cc', 369, 2076, 296, 63, 'url(#grad-per)', per1BandsCC, 2112, 29, 7, false, [-4, 0, 1, 0, -2, 0, 1]);
  membrane('actb-cont', 67, 2145, 296, 77, '#e8e8e8', actbBandsCont, 2186, 39, 12, false);
  membrane('actb-cc', 369, 2145, 296, 77, '#e8e8e8', actbBandsCC, 2186, 39, 12, false);
})();
</script>
</body>
</html>
